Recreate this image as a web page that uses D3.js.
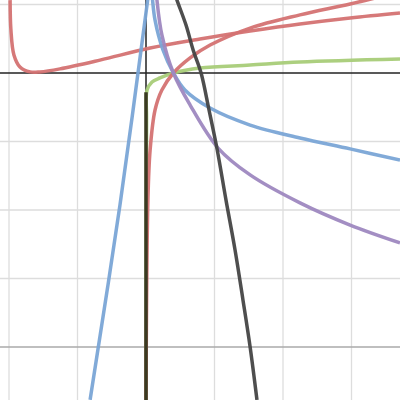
<!DOCTYPE html>
<html><head><meta charset="utf-8">
<script src="https://cdn.jsdelivr.net/npm/d3@7"></script>
<style>body{margin:0;background:#fff}</style>
</head><body><div id="graph"></div>
<script>
// grid lines every 2.5 units, x=1 meets the curves
var gridX = [-5, -2.5, 2.5, 5, 7.5];
var gridY = [2.5, -2.5, -5, -7.5];
var levelY = -10;

var redA   = [[-4.96,2.66],[-4.93,1.57],[-4.82,0.66],[-4.6,0.22],[-4.23,0.04],[-3.87,0.04],[-3.14,0.15],[-1.68,0.47],[0.15,0.91],[1.97,1.24],[3.8,1.53],[5.62,1.79],[7.45,2.01],[9.27,2.19]];
var redB   = [[0,-11.93],[0.07,-4.64],[0.15,-2.81],[0.33,-1.35],[0.58,-0.62],[1,0],[1.61,0.55],[2.34,1.02],[3.8,1.64],[5.62,2.12],[7.45,2.52],[9.27,2.96]];
var green  = [[0,-11.93],[0.02,-1.72],[0.04,-0.62],[0.22,-0.33],[0.51,-0.18],[1,0],[1.97,0.18],[3.8,0.29],[5.62,0.4],[9.27,0.51]];
var blueL  = [[-2.04,-11.93],[-0.95,-4.82],[0.11,3.03]];
var blueR  = [[0.2,3.2],[0.24,2.66],[0.33,1.93],[0.62,0.84],[1,0],[1.42,-0.62],[2.34,-1.28],[3.8,-1.9],[5.62,-2.37],[7.45,-2.77],[9.27,-3.18]];
var purple = [[0.36,3.2],[0.4,2.66],[0.58,1.39],[1,0],[1.61,-1.17],[2.63,-2.74],[3.8,-3.72],[5.62,-4.74],[7.45,-5.55],[9.27,-6.2]];
var black  = [[0.88,3.39],[1.13,2.66],[1.46,1.75],[1.72,0.84],[2.01,0],[2.3,-1.35],[2.6,-2.81],[2.92,-4.64],[3.25,-6.46],[3.54,-8.29],[3.8,-10],[4.05,-11.93]];

var width = 400, height = 400;
var xScale = d3.scaleLinear().domain([-146/27.4, 254/27.4]).range([0, width]);
var yScale = d3.scaleLinear().domain([73/27.4, -327/27.4]).range([0, height]);

var svg = d3.select('#graph').append('svg').attr('width', width).attr('height', height);

svg.selectAll('.gx').data(gridX).enter().append('line')
   .attr('x1', d => xScale(d)).attr('x2', d => xScale(d))
   .attr('y1', 0).attr('y2', height)
   .attr('stroke', '#ddd').attr('stroke-width', 1.3);
svg.selectAll('.gy').data(gridY).enter().append('line')
   .attr('y1', d => yScale(d)).attr('y2', d => yScale(d))
   .attr('x1', 0).attr('x2', width)
   .attr('stroke', '#ddd').attr('stroke-width', 1.3);

svg.append('line').attr('x1', 0).attr('x2', width)
   .attr('y1', yScale(levelY)).attr('y2', yScale(levelY))
   .attr('stroke', '#aaa').attr('stroke-width', 1.5);

// axes
svg.append('line').attr('x1', 0).attr('x2', width).attr('y1', yScale(0)).attr('y2', yScale(0))
   .attr('stroke', '#222').attr('stroke-width', 1.5);
svg.append('line').attr('x1', xScale(0)).attr('x2', xScale(0)).attr('y1', 0).attr('y2', height)
   .attr('stroke', '#222').attr('stroke-width', 1.5);

var line = d3.line().x(d => xScale(d[0])).y(d => yScale(d[1])).curve(d3.curveCatmullRom);

var curves = [
    [green, '#a8cc78'], [redA, '#d47272'], [redB, '#d47272'],
    [blueL, '#7aa5d6'], [blueR, '#7aa5d6'], [purple, '#9e88c0'], [black, '#444444']
];
curves.forEach(function (c) {
    svg.append('path').attr('d', line(c[0])).attr('fill', 'none')
       .attr('stroke', c[1]).attr('stroke-width', 3.5).attr('stroke-opacity', 0.95);
});
// green asymptote overlapping the y axis
svg.append('line').attr('x1', xScale(0)).attr('x2', xScale(0)).attr('y1', yScale(-0.7)).attr('y2', height)
   .attr('stroke', '#3a3a22').attr('stroke-width', 3.5);
</script></body></html>
